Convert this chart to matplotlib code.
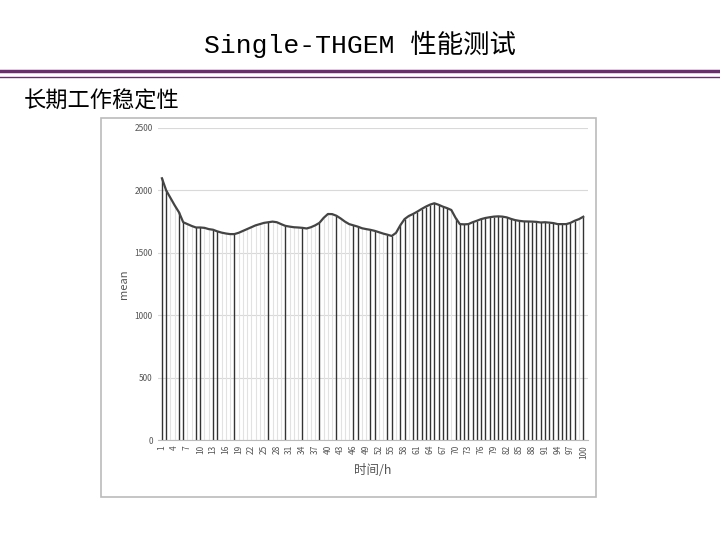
import numpy as np
import matplotlib.pyplot as plt
from matplotlib.patches import Rectangle

plt.rcParams['font.family'] = ['Noto Sans CJK SC', 'DejaVu Sans']

# ============================================================
# Données
# ============================================================
hours = list(range(1, 101))
mean = [2097, 2000, 1940, 1880, 1825, 1745, 1730, 1715, 1703, 1703,
        1700, 1690, 1685, 1672, 1662, 1655, 1650, 1650, 1660, 1675,
        1690, 1705, 1720, 1730, 1740, 1745, 1750, 1745, 1730, 1716,
        1710, 1705, 1703, 1700, 1695, 1705, 1720, 1740, 1780, 1811,
        1810, 1797, 1775, 1750, 1730, 1720, 1710, 1697, 1690, 1684,
        1676, 1665, 1654, 1645, 1635, 1660, 1720, 1770, 1795, 1811,
        1830, 1851, 1870, 1886, 1897, 1885, 1870, 1858, 1843, 1780,
        1730, 1728, 1730, 1745, 1757, 1770, 1779, 1785, 1790, 1792,
        1790, 1784, 1772, 1762, 1756, 1752, 1751, 1750, 1748, 1743,
        1745, 1742, 1738, 1730, 1730, 1730, 1740, 1757, 1770, 1789]
dark_hours = [1, 2, 5, 6, 9, 10, 13, 14, 18, 26, 30, 34, 38, 42, 46, 47,
              50, 51, 54, 55, 57, 58, 60, 61, 62, 63, 64, 65, 66, 67, 68,
              70, 71, 72, 73, 74, 75, 76, 77, 78, 79, 80, 81, 82, 83, 84,
              85, 86, 87, 88, 89, 90, 91, 92, 93, 94, 95, 96, 97, 98, 100]
xtick_labels = list(range(1, 101, 3))

# ============================================================
# Figure
# ============================================================
fig = plt.figure(figsize=(7.2, 5.4), dpi=100)

fig.text(0.5, 0.918, "Single-THGEM 性能测试", ha='center', va='center',
         fontsize=19, family=['Liberation Mono', 'Noto Sans CJK SC'])
fig.add_artist(plt.Line2D([0, 1], [0.868, 0.868], color='#6a2c6e', lw=2.5))
fig.add_artist(plt.Line2D([0, 1], [0.858, 0.858], color='#6a2c6e', lw=1))
fig.text(0.033, 0.813, "长期工作稳定性", ha='left', va='center', fontsize=16)

# cadre du graphique
fig.add_artist(Rectangle((101 / 720, 43 / 540), 495 / 720, 379 / 540,
                         fill=False, edgecolor='#bbbbbb', lw=1.2,
                         transform=fig.transFigure))

ax = fig.add_axes([0.219, 0.185, 0.597, 0.578])
ax.set_xlim(0, 101)
ax.set_ylim(0, 2500)
ax.set_yticks([0, 500, 1000, 1500, 2000, 2500])
ax.yaxis.grid(True, color='#d9d9d9', lw=0.8)
ax.set_axisbelow(True)
for s in ['top', 'right', 'left']:
    ax.spines[s].set_visible(False)
ax.spines['bottom'].set_color('#bbbbbb')

for h, v in zip(hours, mean):
    if h in dark_hours:
        ax.vlines(h, 0, v, color='#333333', lw=1.0)
    else:
        ax.vlines(h, 0, v, color='#e2e2e2', lw=0.8)
ax.plot(hours, mean, color='#444444', lw=1.6)

ax.set_xticks(xtick_labels)
ax.set_xticklabels([str(t) for t in xtick_labels], rotation=90, fontsize=6, color='#555555')
ax.tick_params(axis='y', labelsize=6, labelcolor='#555555', length=0)
ax.tick_params(axis='x', length=0)
ax.set_ylabel("mean", fontsize=8, color='#555555')
ax.set_xlabel("时间/h", fontsize=9, color='#555555')

fig.savefig("out.png", dpi=100)
